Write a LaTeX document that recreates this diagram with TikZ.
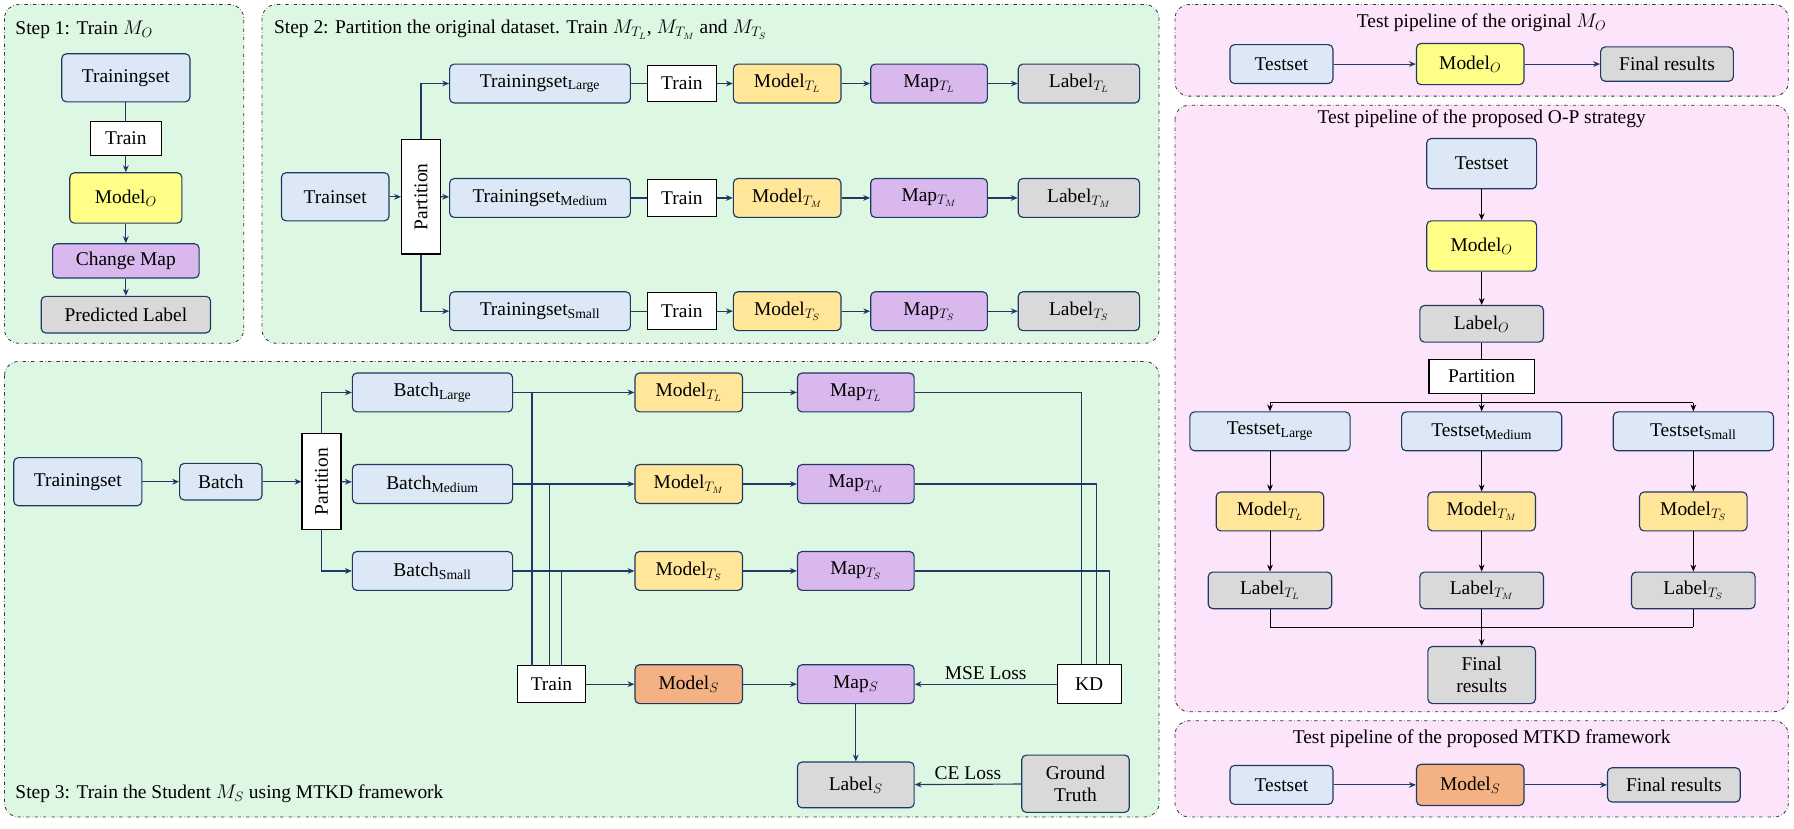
\documentclass[tikz,border=0pt]{standalone}
\usepackage{fontspec}
\setmainfont{Liberation Serif}
\usetikzlibrary{arrows.meta}
\definecolor{nv}{HTML}{1F3864}
\definecolor{gbg}{HTML}{DDF7E3}
\definecolor{pbg}{HTML}{FCE4FA}
\definecolor{cb}{HTML}{DCE8F5}
\definecolor{cyo}{HTML}{FFFF88}
\definecolor{cy}{HTML}{FFE699}
\definecolor{cp}{HTML}{D9B8EE}
\definecolor{cg}{HTML}{D9D9D9}
\definecolor{co}{HTML}{F4B183}
\begin{document}
\begin{tikzpicture}[x=1pt,y=-1pt,font=\fontsize{17}{19}\selectfont,
 panel/.style={draw=black!80,dash dot,rounded corners=12,line width=0.7},
 bx/.style={draw=nv,line width=1,rounded corners=4,inner sep=1pt,align=center,minimum height=34},
 wb/.style={draw=black,line width=1,fill=white,inner sep=2pt,minimum height=30},
 blue/.style={bx,fill=cb},yo/.style={bx,fill=cyo},ye/.style={bx,fill=cy},
 pu/.style={bx,fill=cp},gr/.style={bx,fill=cg},or/.style={bx,fill=co},
 ar/.style={draw=nv,line width=1,-{Stealth[length=6,width=5]}},
 ln/.style={draw=nv,line width=1},
 ak/.style={draw=black,line width=0.8,-{Stealth[length=6,width=5]}},
 lk/.style={draw=black,line width=0.8}]
\useasboundingbox (0,0) rectangle (1568,724);
% panels
\draw[panel,fill=gbg] (4,4) rectangle (213,300);
\draw[panel,fill=gbg] (229,4) rectangle (1013,300);
\draw[panel,fill=gbg] (4,316) rectangle (1013,714);
\draw[panel,fill=pbg] (1027,4) rectangle (1563,84);
\draw[panel,fill=pbg] (1027,92) rectangle (1563,622);
\draw[panel,fill=pbg] (1027,630) rectangle (1563,714);
% Step 1
\node[anchor=west] (t1) at (10,26) {Step 1: Train $M_O$};
\node[blue,minimum width=112,minimum height=42] (a1) at (110,68) {Trainingset};
\node[wb,minimum width=62] (a2) at (110,121) {Train};
\node[yo,minimum width=98,minimum height=44] (a3) at (110,173) {Model$_O$};
\node[pu,minimum width=128,minimum height=30] (a4) at (110,228) {Change Map};
\node[gr,minimum width=148,minimum height=32] (a5) at (110,275) {Predicted Label};
\draw[ln] (a1)--(a2); \draw[ar] (a2)--(a3); \draw[ar] (a3)--(a4); \draw[ar] (a4)--(a5);
% Step 2
\node[anchor=west] (t2) at (236,26) {Step 2: Partition the original dataset. Train $M_{T_L}$, $M_{T_M}$ and $M_{T_S}$};
\node[blue,minimum width=94,minimum height=42] (b0) at (293,172) {Trainset};
\node[wb,minimum width=100,minimum height=34,rotate=90] (bp) at (368,172) {Partition};
\draw[ar] (b0)--(bp.north);
\foreach \y/\s/\t/\n in {73/Large/L/l,173/Medium/M/m,272/Small/S/s}{
 \node[blue,minimum width=158] (b1\n) at (472,\y) {Trainingset\textsubscript{\fontsize{12}{14}\selectfont\s}};
 \node[wb,minimum width=60,minimum height=32] (b2\n) at (596,\y) {Train};
 \node[ye,minimum width=94] (b3\n) at (688,\y) {Model$_{T_\t}$};
 \node[pu,minimum width=102] (b4\n) at (812,\y) {Map$_{T_\t}$};
 \node[gr,minimum width=106] (b5\n) at (943,\y) {Label$_{T_\t}$};
 \draw[ln] (b1\n)--(b2\n); \draw[ar] (b2\n)--(b3\n); \draw[ar] (b3\n)--(b4\n); \draw[ar] (b4\n)--(b5\n);}
\draw[ar] (bp.east)|-(b1l); \draw[ar] (bp.south)--(b1m); \draw[ar] (bp.west)|-(b1s);
% Step 3
\node[anchor=west] (t3) at (10,694) {Step 3: Train the Student $M_S$ using MTKD framework};
\node[blue,minimum width=112,minimum height=42] (c0) at (68,421) {Trainingset};
\node[blue,minimum width=72,minimum height=32] (c1) at (193,421) {Batch};
\node[wb,minimum width=84,minimum height=34,rotate=90] (cp) at (281,421) {Partition};
\draw[ar] (c0)--(c1); \draw[ar] (c1)--(cp.north);
\node[wb,minimum width=60,minimum height=32] (ct) at (482,598) {Train};
\foreach \y/\s/\t/\n/\bx/\kx in {343/Large/L/l/465/945,423/Medium/M/m/480/958,499/Small/S/s/491/970}{
 \node[blue,minimum width=140] (c2\n) at (378,\y) {Batch\textsubscript{\fontsize{12}{14}\selectfont\s}};
 \node[ye,minimum width=94] (c3\n) at (602,\y) {Model$_{T_\t}$};
 \node[pu,minimum width=102] (c4\n) at (748,\y) {Map$_{T_\t}$};
 \draw[ar] (c2\n)--(c3\n); \draw[ar] (c3\n)--(c4\n);
 \draw[ln] (\bx,\y)--(\bx,582);
 \draw[ln] (c4\n.east)--(\kx,\y)--(\kx,582);}
\draw[ar] (cp.east)|-(c2l); \draw[ar] (cp.south)--(c2m); \draw[ar] (cp.west)|-(c2s);
\node[or,minimum width=94] (cs) at (602,598) {Model$_S$};
\node[pu,minimum width=102] (cms) at (748,598) {Map$_S$};
\node[wb,minimum width=56,minimum height=34] (kd) at (952,598) {KD};
\node[gr,minimum width=102,minimum height=40] (cl) at (748,686) {Label$_S$};
\node[gr,minimum width=94,minimum height=50,align=center,inner sep=0pt] (gt) at (940,685) {Ground\\Truth};
\draw[ar] (ct)--(cs); \draw[ar] (cs)--(cms);
\draw[ar] (kd)--node[above]{MSE Loss} (cms);
\draw[ar] (cms)--(cl);
\draw[ar] (gt)--node[above]{CE Loss} (cl);
% Right top
\node (r1) at (1295,20) {Test pipeline of the original $M_O$};
\node[blue,minimum width=90] (r1a) at (1120,56) {Testset};
\node[yo,minimum width=94,minimum height=36] (r1b) at (1285,56) {Model$_O$};
\node[gr,minimum width=116,minimum height=30] (r1c) at (1457,56) {Final results};
\draw[ar] (r1a)--(r1b); \draw[ar] (r1b)--(r1c);
% Right mid
\node (r2) at (1295,104) {Test pipeline of the proposed O-P strategy};
\node[blue,minimum width=96,minimum height=44] (m1) at (1295,143) {Testset};
\node[yo,minimum width=96,minimum height=44] (m2) at (1295,215) {Model$_O$};
\node[gr,minimum width=108,minimum height=32] (m3) at (1295,283) {Label$_O$};
\node[wb,minimum width=92] (m4) at (1295,329) {Partition};
\node[gr,minimum width=94,minimum height=50,align=center,inner sep=0pt] (mf) at (1295,590) {Final\\results};
\draw[ak] (m1)--(m2); \draw[ak] (m2)--(m3); \draw[lk] (m3)--(m4);
\draw[lk] (1110,352)--(1480,352);
\foreach \x/\s/\t/\n in {1110/Large/L/l,1295/Medium/M/m,1480/Small/S/s}{
 \node[blue,minimum width=140] (m5\n) at (\x,377) {Testset\textsubscript{\fontsize{12}{14}\selectfont\s}};
 \node[ye,minimum width=94] (m6\n) at (\x,447) {Model$_{T_\t}$};
 \node[gr,minimum width=108,minimum height=32] (m7\n) at (\x,516) {Label$_{T_\t}$};
 \draw[ak] (\x,352)--(m5\n); \draw[ak] (m5\n)--(m6\n); \draw[ak] (m6\n)--(m7\n);
 \draw[lk] (m7\n.south)--(\x,548);}
\draw[lk] (m4)--(1295,352);
\draw[lk] (1110,548)--(1480,548);
\draw[ak] (1295,548)--(mf);
% Right bottom
\node (r3) at (1295,646) {Test pipeline of the proposed MTKD framework};
\node[blue,minimum width=90] (r3a) at (1120,686) {Testset};
\node[or,minimum width=94,minimum height=36] (r3b) at (1285,686) {Model$_S$};
\node[gr,minimum width=116,minimum height=30] (r3c) at (1463,686) {Final results};
\draw[ar] (r3a)--(r3b); \draw[ar] (r3b)--(r3c);
\end{tikzpicture}
\end{document}
